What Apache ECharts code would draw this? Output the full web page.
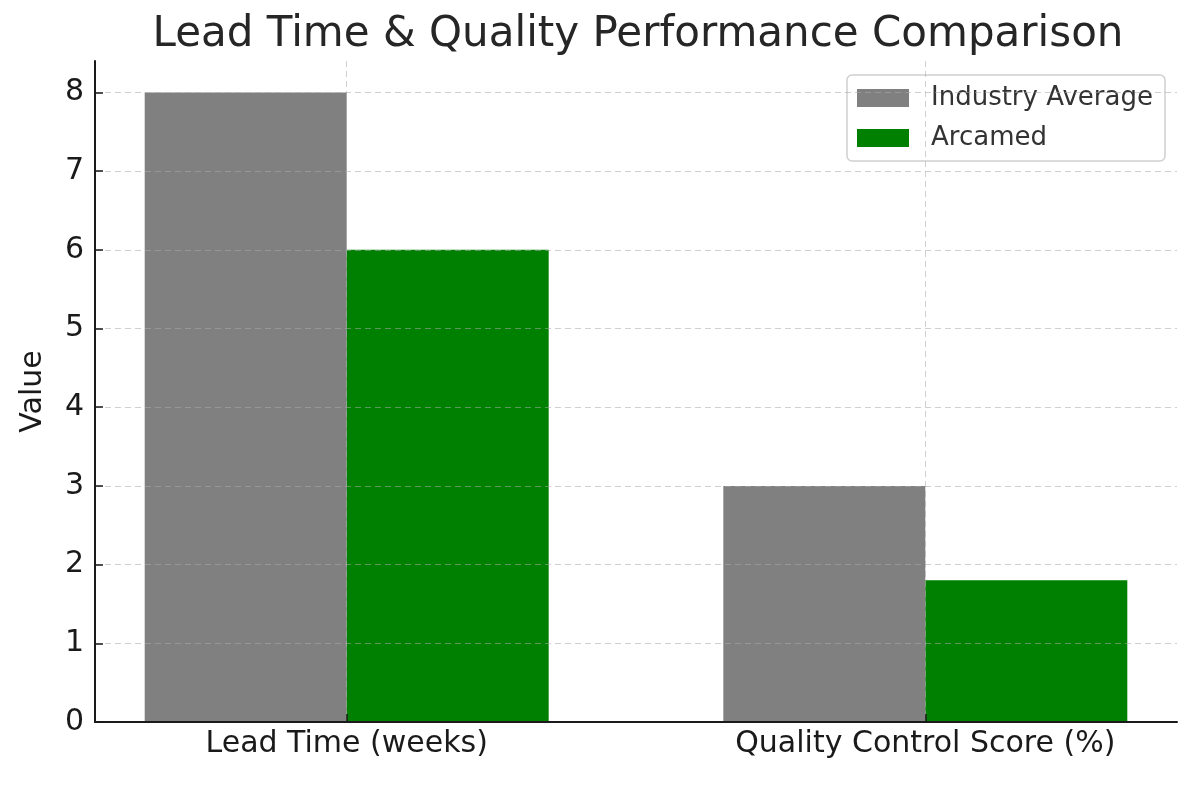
<!DOCTYPE html>
<html>
<head>
<meta charset="utf-8">
<script src="https://cdn.jsdelivr.net/npm/echarts@6/dist/echarts.min.js"></script>
<style>html,body{margin:0;padding:0;background:#fff;}#c{width:1200px;height:796px;}</style>
</head>
<body>
<div id="c"></div>
<script>
const categories = ['Lead Time (weeks)', 'Quality Control Score (%)'];
const industryAverage = [8, 3];
const arcamed = [6, 1.8];
const yTicks = [0, 1, 2, 3, 4, 5, 6, 7, 8];
const seriesNames = ['Industry Average', 'Arcamed'];

const FONT = 'DejaVu Sans';
const chart = echarts.init(document.getElementById('c'), null, {renderer: 'canvas'});
const catIdx = categories.map((c, i) => i);
const grid = {left: 95, right: 23, top: 61, bottom: 74};
const gridLine = {show: true, lineStyle: {color: 'rgba(170,170,170,0.55)', type: [6, 4], width: 1}};

chart.setOption({
  animation: false,
  title: {
    text: 'Lead Time & Quality Performance Comparison',
    left: 633, top: 9, textAlign: 'center',
    textStyle: {fontFamily: FONT, fontSize: 42, fontWeight: 'normal', color: '#262626'}
  },
  legend: {
    orient: 'vertical', left: 847, top: 75,
    itemWidth: 52, itemHeight: 18, itemGap: 14,
    padding: [10, 12, 10, 10],
    borderColor: '#d0d0d0', borderWidth: 1.5, borderRadius: 5,
    textStyle: {fontFamily: FONT, fontSize: 26, color: '#333', lineHeight: 26, padding: [0, 0, 0, 17]},
    data: seriesNames.map(n => ({name: n, icon: 'rect'}))
  },
  grid: grid,
  xAxis: {
    type: 'value', min: -0.435, max: 1.435, z: 5,
    axisLine: {show: true, onZero: false, lineStyle: {color: '#1a1a1a', width: 2}},
    axisTick: {show: true, inside: true, length: 8, customValues: catIdx, lineStyle: {color: '#1a1a1a', width: 1.5}},
    axisLabel: {customValues: catIdx, formatter: v => categories[Math.round(v)], fontFamily: FONT, fontSize: 30, color: '#1a1a1a', margin: 7},
    splitLine: gridLine
  },
  yAxis: {
    type: 'value', min: 0, max: 8.4, z: 5,
    name: 'Value', nameLocation: 'middle', nameGap: 47, nameRotate: 90,
    nameTextStyle: {fontFamily: FONT, fontSize: 30, color: '#1a1a1a'},
    axisLine: {show: true, onZero: false, lineStyle: {color: '#1a1a1a', width: 2}},
    axisTick: {show: true, inside: true, length: 8, customValues: yTicks, lineStyle: {color: '#1a1a1a', width: 1.5}},
    axisLabel: {customValues: yTicks, fontFamily: FONT, fontSize: 30, color: '#1a1a1a', margin: 11},
    splitLine: gridLine
  },
  series: [
    {name: seriesNames[0], type: 'bar', data: industryAverage.map((v, i) => [i, v]), barWidth: 202, barGap: '0%', itemStyle: {color: '#808080'}},
    {name: seriesNames[1], type: 'bar', data: arcamed.map((v, i) => [i, v]), barWidth: 202, barGap: '0%', itemStyle: {color: '#008000'}}
  ]
});
</script>
</body>
</html>
